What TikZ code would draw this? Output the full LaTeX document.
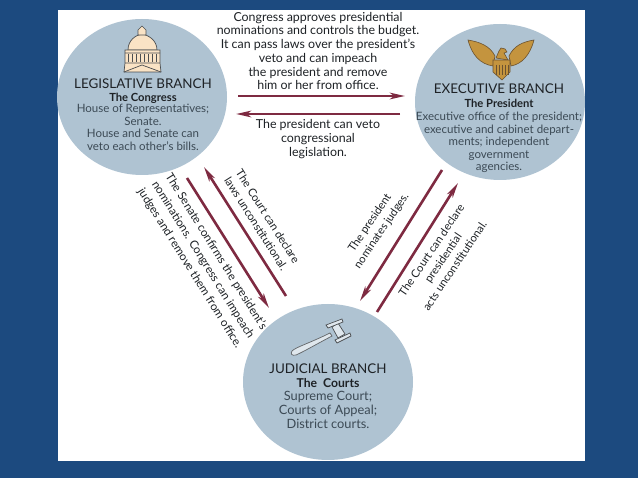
\documentclass[tikz,border=0pt]{standalone}
\usepackage{fontspec}
\setmainfont{Lato}
\usetikzlibrary{arrows.meta,shapes.geometric}
\definecolor{slide}{HTML}{1C4A7F}
\definecolor{disc}{HTML}{AFC3D2}
\definecolor{wine}{HTML}{7E2A41}
\definecolor{ink}{HTML}{1E2226}
\definecolor{bodytext}{HTML}{3C4A55}
\definecolor{domecol}{HTML}{FAE3C5}
\definecolor{gold}{HTML}{C4943E}
\definecolor{brownline}{HTML}{6B5230}
\begin{document}
\begin{tikzpicture}[x=1pt, y=-1pt, >={Stealth[length=15pt,width=6.5pt,inset=4pt]},
    branch/.style={ellipse, fill=disc, minimum width=170pt, minimum height=156pt, inner sep=0pt},
    note/.style={align=center, text=ink, font=\fontsize{12.4}{13.7}\selectfont, inner sep=0pt},
    slant/.style={align=center, text=ink, font=\fontsize{11.2}{14}\selectfont, inner sep=0pt},
    info/.style={align=center, text=bodytext, inner sep=0pt, font=\fontsize{11.5}{12.5}\selectfont},
    head/.style={text=ink, inner sep=0pt, font=\fontsize{13.4}{14}\selectfont},
    sub/.style={text=ink, inner sep=0pt, font=\bfseries\fontsize{11.2}{13}\selectfont},
    icon/.style={draw=ink!80, line width=.7pt},
    link/.style={->, wine, line width=2.6pt}]
\useasboundingbox (0,0) rectangle (638,478);
\fill[slide] (0,0) rectangle (638,478);
\fill[white] (58,10) rectangle (585,461);
\node[branch] (leg) at (142,97) {};
\node[branch] (exe) at (500,102) {};
\node[branch] (jud) at (328,382) {};
% dome
\draw[icon, fill=domecol] (128,50) .. controls (128,40) and (136,35) .. (142,34) .. controls (148,35) and (157,40) .. (157,50)--cycle;
\draw[icon, fill=domecol] (138,35)--(138,30)--(142,26)--(146,30)--(146,35)--cycle;
\draw[icon, fill=domecol] (125,50)--(160,50)--(160,63)--(161,72)--(124,72)--(125,63)--cycle;
\draw[icon] (125,63)--(160,63) (124,72)--(142,65)--(161,72) (125,53)--(160,53);
\foreach \c in {128,132,...,158}
    \draw[icon] (\c,54)--(\c,62);
% eagle
\draw[brownline, line width=.6pt, fill=gold] (468,40) .. controls (480,42) and (490,46) .. (495,56)--(493,66) .. controls (480,64) and (472,55) .. (468,40)--cycle;
\draw[brownline, line width=.6pt, fill=gold] (534,40) .. controls (522,42) and (514,46) .. (509,56)--(511,66) .. controls (522,64) and (530,55) .. (534,40)--cycle;
\draw[brownline, line width=.6pt, fill=gold] (496,58)--(499,51)--(501,48)--(505,49)--(507,52)--(504,53)--(508,60)--cycle;
\draw[brownline, line width=.6pt, fill=gold] (493,60)--(510,60)--(510,72)--(502,80)--(493,72)--cycle;
\foreach \c in {496,499,502,505,508}
    \draw[brownline, line width=.6pt] (\c,65)--(\c,75);
% gavel
\draw[ink!70, line width=.7pt, fill=disc!40] (292,351) .. controls (296,347) and (310,343) .. (330,333)--(332,336) .. controls (315,345) and (303,352) .. (296,355) .. controls (292,356) and (290,354) .. (292,351)--cycle;
\draw[icon, fill=disc!40] (332,327)--(338,323)--(345,334)--(338,338)--cycle;
\draw[icon, fill=disc!40] (326,325)--(342,319)--(343,322)--(328,328)--cycle;
\draw[icon, fill=disc!40] (335,340)--(350,333)--(351,336)--(337,343)--cycle;
% legislative
\node[head] (leghead) at (143,84) {LEGISLATIVE BRANCH};
\node[sub] (legsub) at (143,98) {The Congress};
\node[info, anchor=north] (leginfo) at (143,104) {House of Representatives;\\ Senate.\\ House and Senate can\\ veto each other's bills.};
% executive
\node[head] (exehead) at (499,89) {EXECUTIVE BRANCH};
\node[sub] (exesub) at (499,103) {The President};
\node[info, anchor=north] (exeinfo) at (499,112) {Executive office of the president;\\ executive and cabinet depart-\\ ments; independent\\ government\\ agencies.};
% judicial
\node[head] (judhead) at (328,369) {JUDICIAL BRANCH};
\node[sub, font=\bfseries\fontsize{12.2}{13}\selectfont] (judsub) at (328,383) {The~~Courts};
\node[info, anchor=north, font=\fontsize{12.8}{14}\selectfont] (judinfo) at (328,391.5) {Supreme Court;\\ Courts of Appeal;\\ District courts.};
% arrows
\coordinate (a1) at (238,96);
\coordinate (a2) at (405,96);
\coordinate (b1) at (400,114);
\coordinate (b2) at (236,114);
\coordinate (c1) at (187,178);
\coordinate (c2) at (269,308);
\coordinate (d1) at (286,296);
\coordinate (d2) at (204,167);
\coordinate (e1) at (442,170);
\coordinate (e2) at (360,301);
\coordinate (f1) at (377,312);
\coordinate (f2) at (458,183);
\foreach \s/\t in {a1/a2,b1/b2,c1/c2,d1/d2,e1/e2,f1/f2}
    \draw[link] (\s)--(\t);
% notes
\node[note] (over) at (318,51) {Congress approves presidential\\ nominations and controls the budget.\\ It can pass laws over the president's\\ veto and can impeach\\ the president and remove\\ him or her from office.};
\node[note] (veto) at (318,139) {The president can veto\\ congressional\\ legislation.};
\node[slant, rotate=-58, font=\fontsize{11.6}{15.5}\selectfont] (senate) at (203,260) {The Senate confirms the president's\\ nominations. Congress can impeach\\ judges and remove them from office.};
\node[slant, rotate=-57.5] (court) at (262,220) {The Court can declare\\ laws unconstitutional.};
\node[slant, rotate=56] (nominate) at (376,227) {The president\\ nominates judges.};
\node[slant, rotate=56] (acts) at (443,258) {The Court can declare\\ presidential\\ acts unconstitutional.};
\end{tikzpicture}
\end{document}
